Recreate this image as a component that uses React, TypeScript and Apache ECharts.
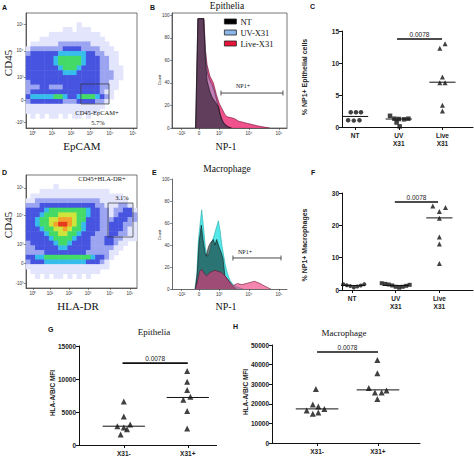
import React, { useEffect, useRef } from "react";
import * as echarts from "echarts";

// ---------------- A / D : flow density plots (density level per cell, rows top -> bottom) ----------------
const A_DENSITY = [
  "000000000000000000000000",
  "000000000000000000000000",
  "000000000001000000000000",
  "000000001101110000000000",
  "000001111111111100000000",
  "000111111111111110000000",
  "011111122222221111000000",
  "122222223333222211100000",
  "233333344444433221110000",
  "333333455555433322110000",
  "333333455555433322110000",
  "333333345554333322111000",
  "333333334443333322211000",
  "333333333333333322211000",
  "233333333333333322110000",
  "222332223333333322110000",
  "233333333333333321100000",
  "344444554334555432100000",
  "233333332223333221000000",
  "111111111111111110000000",
  "111111111111111100000000",
  "010101101011010000000000",
  "000000000000000000000000",
  "000000000000000000000000",
];
const D_DENSITY = [
  "000000000000000000000000",
  "000000000000000000000000",
  "000000100000000000000000",
  "000111111111111111000000",
  "011111111111111111111000",
  "112222222222222211111100",
  "222333333333333221112210",
  "333345555555543322122331",
  "333455566665543322123332",
  "334556677765533322233322",
  "334556788765433322333221",
  "333455667655433322333211",
  "333345566554333222332211",
  "333334555543332223322111",
  "233333455433332223321100",
  "223333344333332222211000",
  "222233333333322222110000",
  "334455555555554332100000",
  "233344444444433321000000",
  "111111111111111111000000",
  "011111111111111100000000",
  "001010110101010000000000",
  "000000000000000000000000",
  "000000000000000000000000",
];
const DENSITY_COLORS = ["#e2e5fb", "#9ba4f1", "#4654e0", "#36bdec", "#44da66", "#cde43a", "#f4a02a", "#e63a1e"];

const DENS_X_LABELS = ["10⁰", "10¹", "10²", "10³", "10⁴", "10⁵"];
const DENS_Y_LABELS = ["-10³", "0", "10³", "10⁴", "10⁵"];
const A_X_TICKS = [6.3, 23.4, 40.5, 57.7, 75.7, 96.4];
const A_Y_TICKS = [5.2, 24.3, 44.3, 67, 90.4];
const D_X_TICKS = [6.3, 21.6, 38.7, 55.9, 75.7, 93.7];
const D_Y_TICKS = [4.4, 22.1, 38.9, 64.6, 88.5];
const A_GATE = [[49.5, 20.9], [74.8, 20.9], [74.8, 38.3], [49.5, 38.3], [49.5, 20.9]];
const D_GATE = [[73.9, 45.1], [96.4, 45.1], [96.4, 75.2], [73.9, 75.2], [73.9, 45.1]];

// ---------------- B / E : NP-1 histograms ----------------
const HIST_X_TICKS = [8, 23.5, 41, 67, 93];
const HIST_X_LABELS = ["-10²", "0", "10³", "10⁴", "10⁵"];
const HIST_Y_TICKS = [0, 20, 40, 60, 80, 100];
const HIST_Y_LABELS = ["0", "20", "40", "60", "80", "100"];
const HIST_NAMES = ["NT", "UV-X31", "Live-X31"];

const B_NT = [[20.5, 0], [22.5, 97], [27.5, 97], [29, 60], [30.5, 42], [33, 32], [35, 27], [37, 24], [39, 21], [40.5, 19], [42, 12], [44, 6], [46, 3], [49, 1], [52, 0]];
const B_UV = [[20.5, 0], [22.5, 97], [27.5, 97], [29.5, 60], [31, 48], [33, 42], [35, 38], [37, 32], [39, 24], [41, 15], [43, 8], [46, 3], [50, 0]];
const B_LIVE = [[20.8, 0], [22.7, 97], [27.8, 97], [29, 70], [30.5, 56], [33, 46], [36, 40], [38.5, 30], [41, 22], [43, 18], [46, 12], [48, 10], [52, 9], [55, 8], [58, 6], [62, 5], [66, 4], [70, 3], [74, 2], [79, 1], [85, 0]];
const B_GATE = [[42.6, 31], [96.5, 31]];

const E_UV = [[19.9, 0], [21.5, 12], [23, 45], [25.8, 72], [27.5, 55], [29, 38], [30.7, 29], [32.5, 33], [34.5, 42], [37, 50], [40.3, 62], [42, 52], [43.2, 41], [45, 30], [46.1, 23], [48, 15], [50.4, 8], [53, 4], [56.2, 2], [62, 0]];
const E_NT = [[20.3, 0], [22, 15], [23.5, 42], [25.5, 58], [27, 45], [28.7, 33], [30, 30], [31.6, 38], [33.5, 42], [35.9, 45], [37.4, 40], [38.8, 45], [41, 38], [42.5, 34], [44.3, 28], [46, 12], [49, 8], [52, 3], [56, 0]];
const E_LIVE = [[20.3, 0], [22, 6], [24, 16], [25.8, 18], [28, 14], [30.1, 12], [33, 15], [37.4, 17], [40, 16], [43.2, 15], [46.1, 12], [50.4, 6], [53.3, 3], [56.8, 5], [60.6, 4], [64.6, 5], [68, 6], [71.9, 7], [76.5, 5], [80, 3], [83.8, 1], [86, 0]];
const E_GATE = [[53, 28.2], [94.8, 28.2]];

// ---------------- C / F : % NP1+ cells ----------------
const CF_GROUPS = ["NT", "UV\nX31", "Live\nX31"];
const C_NT = [[0.9, 2.3], [1.02, 2.3], [1.135, 2.3], [0.84, 1.05], [0.97, 1.0], [1.1, 1.05]];
const C_UV = [[1.8, 1.75], [1.9, 1.3], [2.0, 1.25], [2.12, 1.2], [2.22, 1.3], [1.95, 0.7], [2.02, 0.1]];
const C_LIVE = [[3.06, 13.0], [2.94, 12.3], [3.0, 7.8], [2.94, 6.9], [3.06, 6.9], [3.0, 3.4], [3.0, 2.5]];
const C_MEDIANS = [1.65, 1.25, 7.0];
const C_SIG = { from: 1.96, to: 2.99, y: 13.75, text: "0.0078" };

const F_NT = [[0.72, 1.9], [0.8, 1.75], [0.88, 1.5], [0.96, 1.2], [1.04, 0.8], [1.12, 1.1], [1.2, 1.4], [1.28, 1.75]];
const F_UV = [[1.68, 2.1], [1.76, 1.9], [1.84, 1.7], [1.92, 1.4], [2.0, 1.0], [2.08, 0.7], [2.16, 1.0], [2.24, 1.3], [2.32, 1.6]];
const F_LIVE = [[2.85, 26.0], [3.0, 24.3], [3.14, 25.5], [3.0, 22.2], [3.0, 16.4], [3.0, 14.2], [3.0, 8.2]];
const F_MEDIANS = [1.4, 1.4, 22.3];
const F_SIG = { from: 1.98, to: 2.97, y: 27.2, text: "0.0078" };

// ---------------- G / H : HLA-A/B/C MFI ----------------
const GH_GROUPS = ["X31-", "X31+"];
const G_NEG = [[1.0, 6600], [1.0, 4300], [1.1, 3100], [0.9, 2850], [1.0, 2650], [1.05, 2400], [0.95, 1600]];
const G_POS = [[1.99, 11200], [1.99, 9600], [1.99, 8350], [2.04, 7300], [1.93, 6850], [1.99, 5150], [1.99, 2500]];
const G_MEDIANS = [2850, 7200];
const G_SIG = { from: 0.98, to: 2.0, y: 12400, text: "0.0078" };

const H_NEG = [[0.98, 27600], [0.93, 19600], [1.02, 18600], [1.12, 17400], [0.83, 16600], [1.02, 15600], [0.93, 14900]];
const H_POS = [[1.99, 42400], [1.99, 35600], [1.85, 28000], [2.14, 26800], [1.95, 25800], [2.06, 25800], [1.99, 22500]];
const H_MEDIANS = [17400, 27100];
const H_SIG = { from: 1.0, to: 2.0, y: 46400, text: "0.0078" };

// ---------------- helpers ----------------
const SANS = "Liberation Sans";
const SERIF = "Liberation Serif";

const pickLabel = (ticks: number[], labels: string[]) => (v: number) => {
  let bi = 0, bd = 1e9;
  ticks.forEach((t, i) => { const d = Math.abs(t - v); if (d < bd) { bd = d; bi = i; } });
  return bd < 0.05 ? labels[bi] : "";
};

const heatData = (rows: string[]) => {
  const out: number[][] = [];
  rows.forEach((row, r) => {
    for (let c = 0; c < row.length; c++) {
      const v = +row[c];
      if (v > 0) out.push([c, r, v]);
    }
  });
  return out;
};

const flowAxis = (gridIndex: number, ticks: number[], labels: string[], max = 100) => ({
  type: "value", gridIndex, min: 0, max,
  axisLine: { show: true, onZero: false, lineStyle: { color: "#444", width: 0.8 } },
  axisTick: { show: true, customValues: ticks, length: 2, lineStyle: { color: "#444", width: 0.6 } },
  axisLabel: { show: true, customValues: ticks, formatter: pickLabel(ticks, labels), fontSize: 4.5, margin: 2.5, color: "#333", fontFamily: SANS },
  splitLine: { show: false },
});

const catAxis = (gridIndex: number, n: number, inverse = false) => ({
  type: "category", gridIndex, data: Array.from({ length: n }, (_, i) => i), inverse, show: false,
});

const prismY = (gridIndex: number, max: number, interval: number) => ({
  type: "value", gridIndex, min: 0, max, interval,
  axisLine: { show: true, onZero: false, lineStyle: { color: "#111", width: 1 } },
  axisTick: { show: true, length: 3, lineStyle: { color: "#111", width: 1 } },
  axisLabel: { fontSize: 6.5, fontWeight: "bold", fontFamily: SANS, color: "#222", margin: 3, formatter: (v: number) => String(v) },
  splitLine: { show: false },
});

const prismX = (gridIndex: number, min: number, max: number, cats: string[]) => {
  const pos = cats.map((_, i) => i + 1);
  return {
    type: "value", gridIndex, min, max,
    axisLine: { show: true, onZero: false, lineStyle: { color: "#111", width: 1 } },
    axisTick: { show: true, customValues: pos, length: 3, lineStyle: { color: "#111", width: 1 } },
    axisLabel: { customValues: pos, formatter: pickLabel(pos, cats), fontSize: 6.5, lineHeight: 8, fontWeight: "bold", fontFamily: SANS, color: "#222", margin: 4 },
    splitLine: { show: false },
  };
};

const dots = (idx: number, data: number[][], symbol: string, size: number) => ({
  type: "scatter", xAxisIndex: idx, yAxisIndex: idx, data, symbol, symbolSize: size,
  itemStyle: { color: "#111" }, silent: true, z: 4,
});

const seg = (idx: number, data: number[][], width: number, color = "#111", extra = {}) => ({
  type: "line", xAxisIndex: idx, yAxisIndex: idx, data, symbol: "none",
  lineStyle: { color, width }, silent: true, z: 5, ...extra,
});

const medianLines = (idx: number, medians: number[], half: number) =>
  medians.map((m, i) => seg(idx, [[i + 1 - half, m], [i + 1 + half, m]], 1));

const sigBar = (idx: number, s: { from: number; to: number; y: number; text: string }) => ({
  type: "line", xAxisIndex: idx, yAxisIndex: idx, data: [[s.from, s.y], [s.to, s.y]],
  symbol: "none", lineStyle: { color: "#111", width: 1.6 }, silent: true, z: 3,
  markPoint: {
    symbol: "circle", symbolSize: 0, silent: true,
    data: [{ coord: [(s.from + s.to) / 2, s.y], value: s.text }],
    label: { show: true, position: "top", distance: 1.5, formatter: s.text, fontSize: 6.5, fontFamily: SANS, color: "#222" },
  },
});

const area = (idx: number, name: string, data: number[][], fill: string, stroke: string, z: number) => ({
  type: "line", name, xAxisIndex: idx, yAxisIndex: idx, data, symbol: "none", smooth: false,
  lineStyle: { color: stroke, width: 0.6 }, itemStyle: { color: fill }, areaStyle: { color: fill, opacity: 1 },
  silent: true, z,
});

const txt = (text: string, x: number, y: number, style: any = {}, rotation = 0) => ({
  type: "text", x, y, rotation, silent: true, z: 100,
  style: { text, fontSize: 7, fontFamily: SANS, fill: "#111", align: "center", verticalAlign: "middle", ...style },
});

export default function App() {
  const ref = useRef<HTMLDivElement>(null);

  useEffect(() => {
    if (!ref.current) return;
    const chart = echarts.init(ref.current, null, { renderer: "svg" });

    const grids = [
      { left: 26, top: 13, width: 111, height: 115, show: true, borderColor: "#555", borderWidth: 0.8 }, // 0 A axes
      { left: 26, top: 13, width: 111, height: 115 }, // 1 A heat
      { left: 172, top: 13, width: 115, height: 115, show: true, borderColor: "#555", borderWidth: 0.8 }, // 2 B
      { left: 342, top: 31, width: 131, height: 96 }, // 3 C
      { left: 26, top: 175, width: 111, height: 113, show: true, borderColor: "#555", borderWidth: 0.8 }, // 4 D axes
      { left: 26, top: 175, width: 111, height: 113 }, // 5 D heat
      { left: 172, top: 179, width: 115, height: 110 }, // 6 E
      { left: 342, top: 193, width: 131, height: 97 }, // 7 F
      { left: 79, top: 346, width: 137.6, height: 99 }, // 8 G
      { left: 272, top: 345, width: 148, height: 98 }, // 9 H
    ];

    const xAxis = [
      flowAxis(0, A_X_TICKS, DENS_X_LABELS),
      catAxis(1, A_DENSITY[0].length),
      flowAxis(2, HIST_X_TICKS, HIST_X_LABELS),
      prismX(3, 0.7, 3.7, CF_GROUPS),
      flowAxis(4, D_X_TICKS, DENS_X_LABELS),
      catAxis(5, D_DENSITY[0].length),
      flowAxis(6, HIST_X_TICKS, HIST_X_LABELS),
      prismX(7, 0.77, 3.77, CF_GROUPS),
      prismX(8, 0.3, 2.45, GH_GROUPS),
      prismX(9, 0.26, 2.69, GH_GROUPS),
    ];
    const yAxis = [
      flowAxis(0, A_Y_TICKS, DENS_Y_LABELS),
      catAxis(1, A_DENSITY.length, true),
      flowAxis(2, HIST_Y_TICKS, HIST_Y_LABELS, 102),
      prismY(3, 15, 5),
      flowAxis(4, D_Y_TICKS, DENS_Y_LABELS),
      catAxis(5, D_DENSITY.length, true),
      flowAxis(6, HIST_Y_TICKS, HIST_Y_LABELS, 100),
      prismY(7, 30, 10),
      prismY(8, 15000, 5000),
      prismY(9, 50000, 10000),
    ];

    const series: any[] = [];
    const heatIdx: number[] = [];
    // A
    heatIdx.push(series.length);
    series.push({ type: "heatmap", xAxisIndex: 1, yAxisIndex: 1, data: heatData(A_DENSITY), silent: true, z: 1 });
    series.push(seg(0, A_GATE, 0.7, "#333"));
    // D
    heatIdx.push(series.length);
    series.push({ type: "heatmap", xAxisIndex: 5, yAxisIndex: 5, data: heatData(D_DENSITY), silent: true, z: 1 });
    series.push(seg(4, D_GATE, 0.7, "#333"));
    // B
    series.push(area(2, HIST_NAMES[2], B_LIVE, "rgba(236,52,120,0.85)", "#6a1030", 2));
    series.push(area(2, HIST_NAMES[1], B_UV, "rgba(140,180,232,0.45)", "#3a3050", 3));
    series.push(area(2, HIST_NAMES[0], B_NT, "rgba(20,10,20,0.55)", "#111", 4));
    series.push(seg(2, B_GATE, 0.9, "#333", { symbol: "rect", symbolSize: [0.8, 5], itemStyle: { color: "#333" }, showSymbol: true }));
    // E
    series.push(area(6, "E-UV", E_UV, "rgba(84,232,232,1)", "#2aa", 2));
    series.push(area(6, "E-NT", E_NT, "rgba(10,20,20,0.55)", "#111", 3));
    series.push(area(6, "E-Live", E_LIVE, "rgba(236,52,120,0.6)", "#6a1030", 4));
    series.push(seg(6, E_GATE, 0.9, "#333", { symbol: "rect", symbolSize: [0.8, 5], itemStyle: { color: "#333" }, showSymbol: true }));
    // C
    series.push(dots(3, C_NT, "circle", 4.5), dots(3, C_UV, "rect", 4.5), dots(3, C_LIVE, "triangle", 5));
    series.push(...medianLines(3, C_MEDIANS, 0.3), sigBar(3, C_SIG));
    // F
    series.push(dots(7, F_NT, "circle", 4), dots(7, F_UV, "rect", 4), dots(7, F_LIVE, "triangle", 5));
    series.push(...medianLines(7, F_MEDIANS, 0.3), sigBar(7, F_SIG));
    // G
    series.push(dots(8, G_NEG, "triangle", 6), dots(8, G_POS, "triangle", 6));
    series.push(...medianLines(8, G_MEDIANS, 0.33), sigBar(8, G_SIG));
    // H
    series.push(dots(9, H_NEG, "triangle", 6), dots(9, H_POS, "triangle", 6));
    series.push(...medianLines(9, H_MEDIANS, 0.35), sigBar(9, H_SIG));

    const letter = (t: string, x: number, y: number) => txt(t, x, y, { fontWeight: "bold", fontSize: 7, align: "left" });
    const serifT = (t: string, x: number, y: number, size: number, rot = 0) => txt(t, x, y, { fontFamily: SERIF, fontSize: size, fill: "#111" }, rot);
    const prismLabel = (t: string, x: number, y: number, size = 7) => txt(t, x, y, { fontWeight: "bold", fontSize: size, fill: "#222" }, Math.PI / 2);

    const graphic = [
      letter("A", 2, 7), letter("B", 150, 7), letter("C", 310, 6),
      letter("D", 2, 172), letter("E", 152, 172), letter("F", 311, 172),
      letter("G", 48, 329), letter("H", 233, 326),
      // A
      serifT("CD45", 8, 63, 11, Math.PI / 2), serifT("EpCAM", 82, 146, 11),
      serifT("CD45-EpCAM+", 97, 112, 6.5), serifT("5.7%", 98, 122, 6.5),
      // D
      serifT("CD45", 8, 225, 11, Math.PI / 2), serifT("HLA-DR", 78, 306, 11),
      serifT("CD45+HLA-DR+", 102, 178, 6.5), serifT("3.1%", 122, 197, 6.5),
      // B
      serifT("Epithelia", 227, 6, 9.5), serifT("NP-1", 226, 146, 10),
      serifT("NP1+", 243, 86, 6), txt("Count", 159, 80, { fontSize: 4 }, Math.PI / 2),
      // E
      serifT("Macrophage", 227, 169, 9.5), serifT("NP-1", 226, 306, 10),
      serifT("NP1+", 245, 252, 6), txt("Count", 159, 235, { fontSize: 4 }, Math.PI / 2),
      // C / F
      prismLabel("% NP1+ Epithelial cells", 304, 77),
      prismLabel("% NP1+ Macrophages", 304, 245),
      // G / H
      serifT("Epithelia", 154, 332, 9), serifT("Macrophage", 344, 333, 9),
      prismLabel("HLA-A/B/C MFI", 52, 393, 6.5),
      prismLabel("HLA-A/B/C MFI", 245, 392, 6.5),
    ];

    chart.setOption({
      animation: false,
      backgroundColor: "#ffffff",
      grid: grids,
      xAxis,
      yAxis,
      series,
      graphic,
      visualMap: [{
        type: "piecewise", show: false, seriesIndex: heatIdx, dimension: 2,
        pieces: DENSITY_COLORS.map((color, i) => ({ value: i + 1, color })),
      }],
      legend: {
        data: [
          { name: HIST_NAMES[0], itemStyle: { color: "#000000", borderColor: "#222", borderWidth: 0.8 } },
          { name: HIST_NAMES[1], itemStyle: { color: "#8db6ea", borderColor: "#222", borderWidth: 0.8 } },
          { name: HIST_NAMES[2], itemStyle: { color: "#e8143c", borderColor: "#222", borderWidth: 0.8 } },
        ],
        left: 224, top: 17, orient: "vertical", icon: "rect", itemWidth: 12, itemHeight: 5, itemGap: 2,
        padding: 0, selectedMode: false,
        textStyle: { fontFamily: SERIF, fontSize: 8.5, color: "#111", padding: [0, 0, 0, -1] },
      },
    });

    return () => chart.dispose();
  }, []);

  return <div ref={ref} style={{ position: "fixed", left: 0, top: 0, width: 474, height: 457, background: "#fff" }} />;
}
